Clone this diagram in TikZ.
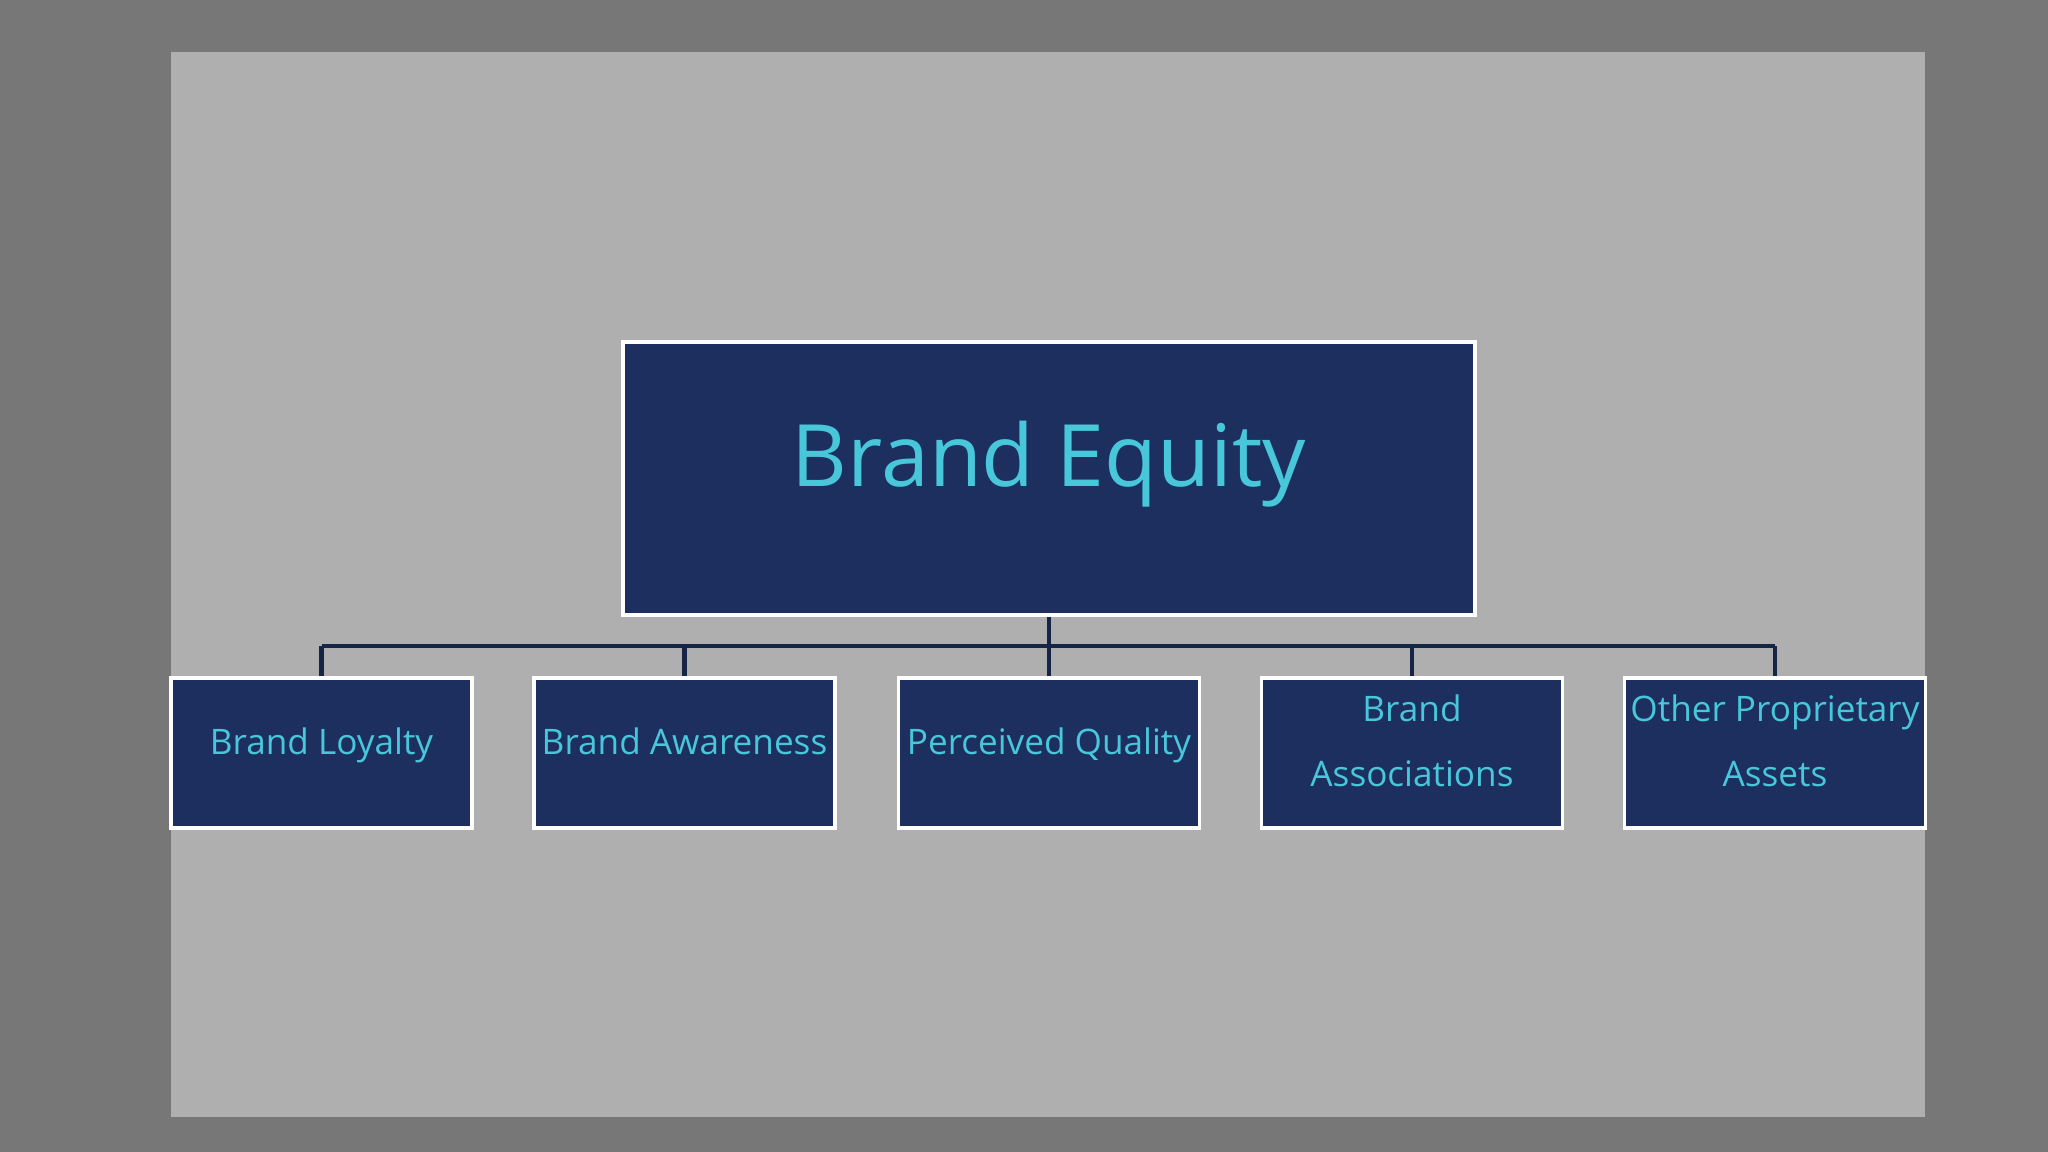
\documentclass[tikz,border=0pt]{standalone}
\usepackage{fontspec}
\setmainfont{Open Sans}
\definecolor{outerbg}{RGB}{119,119,119}
\definecolor{slidebg}{RGB}{175,175,175}
\definecolor{navy}{RGB}{28,47,94}
\definecolor{linenavy}{RGB}{22,36,72}
\definecolor{cyantxt}{RGB}{72,198,218}
\begin{document}
\begin{tikzpicture}[
  box/.style={draw=white, line width=1.1pt, fill=navy, inner sep=0pt},
  mainbox/.style={box, minimum width=8.52cm, minimum height=2.73cm},
  childbox/.style={box, minimum width=3.01cm, minimum height=1.50cm},
  maintxt/.style={text=cyantxt, font=\fontsize{24.5}{30}\selectfont, inner sep=0pt, anchor=base},
  childtxt/.style={text=cyantxt, font=\fontsize{10}{18.5}\selectfont, align=center, inner sep=0pt, anchor=base},
  conn/.style={draw=linenavy, line width=1.2pt}
]
\fill[outerbg] (0,0) rectangle (20.48,-11.52);
\useasboundingbox (0,0) rectangle (20.48,-11.52);
\fill[slidebg] (1.71,-0.52) rectangle (19.25,-11.17);

\node[mainbox] (eq) at (10.49,-4.785) {};
\node[maintxt] (eqtxt) at (10.49,-4.86) {Brand Equity};

\node[childbox] (c1) at (3.215,-7.53) {};
\node[childbox] (c2) at (6.845,-7.53) {};
\node[childbox] (c3) at (10.49,-7.53) {};
\node[childbox] (c4) at (14.12,-7.53) {};
\node[childbox] (c5) at (17.75,-7.53) {};

\coordinate (bus) at (10.49,-6.46);
\draw[conn] (eq.south) -- (eq.south |- bus);
\draw[conn] (c1.north |- bus) -- (c5.north |- bus);
\foreach \c in {c1,c2,c3,c4,c5} {
  \draw[conn] (\c.north |- bus) -- (\c.north);
}

\node[childtxt] (t1) at (c1.center |- 0,-7.55) {Brand Loyalty};
\node[childtxt] (t2) at (c2.center |- 0,-7.55) {Brand Awareness};
\node[childtxt] (t3) at (c3.center |- 0,-7.55) {Perceived Quality};
\node[childtxt] (t4) at (c4.center |- 0,-7.867) {Brand\\Associations};
\node[childtxt] (t5) at (c5.center |- 0,-7.867) {Other Proprietary\\Assets};
\end{tikzpicture}
\end{document}
